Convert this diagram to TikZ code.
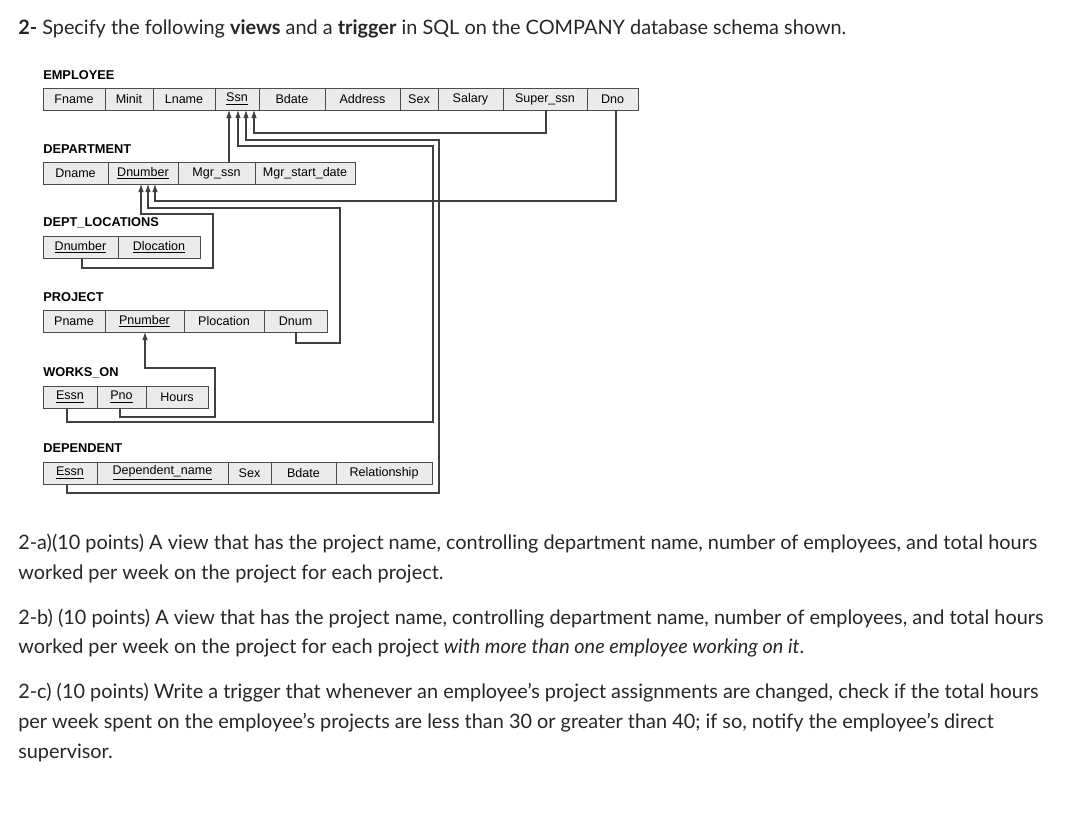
\documentclass[tikz,border=0pt]{standalone}
\usepackage{fontspec}
\setmainfont{Lato}
\newfontfamily\tabfont{Liberation Sans}
\usetikzlibrary{arrows.meta}
\begin{document}
\begin{tikzpicture}[x=0.75pt,y=-0.75pt,
  cell/.style={draw=black!70, fill=black!8, minimum height=16.5pt, inner sep=0pt, font=\tabfont\fontsize{9.4}{10}\selectfont, line width=0.6pt},
  tlabel/.style={anchor=west, inner sep=0pt, font=\tabfont\bfseries\fontsize{9.6}{10}\selectfont},
  conn/.style={draw=black!75, line width=0.8pt},
  arr/.style={conn, -{Latex[length=6pt,width=4.2pt]}},
  para/.style={anchor=base west, inner sep=0pt, font=\fontsize{14.9}{16}\selectfont, text=black!85}]
\useasboundingbox (0,0) rectangle (1078,815);
\newcommand\cell[5]{\node[cell,minimum width={(#3-#2)*0.75pt}] (#1) at ({(#2+#3)/2},#4) {#5};}
\node[para] (title) at (18,34) {\textbf{2-} Specify the following \textbf{views} and a \textbf{trigger} in SQL on the COMPANY database schema shown.};
% EMPLOYEE
\node[tlabel] (lemp) at (43,75) {EMPLOYEE};
\cell{fname}{43}{105}{99}{Fname}
\cell{minit}{105}{153}{99}{Minit}
\cell{lname}{153}{215}{99}{Lname}
\cell{ssn}{215}{259}{99}{\underline{Ssn}}
\cell{bdate}{259}{325}{99}{Bdate}
\cell{address}{325}{400}{99}{Address}
\cell{sex}{400}{438}{99}{Sex}
\cell{salary}{438}{503}{99}{Salary}
\cell{superssn}{503}{587}{99}{Super\_ssn}
\cell{dno}{587}{638}{99}{Dno}
% DEPARTMENT
\node[tlabel] (ldep) at (43,149) {DEPARTMENT};
\cell{dname}{43}{108}{173}{Dname}
\cell{dnumber}{108}{178}{173}{\underline{Dnumber}}
\cell{mgrssn}{178}{255}{173}{Mgr\_ssn}
\cell{mgrsd}{255}{355}{173}{Mgr\_start\_date}
% DEPT_LOCATIONS
\node[tlabel] (lloc) at (43,223) {DEPT\_LOCATIONS};
\cell{ldnumber}{43}{118}{247}{\underline{Dnumber}}
\cell{dlocation}{118}{200}{247}{\underline{Dlocation}}
% PROJECT
\node[tlabel] (lproj) at (43,297) {PROJECT};
\cell{pname}{43}{105}{321}{Pname}
\cell{pnumber}{105}{184}{321}{\underline{Pnumber}}
\cell{plocation}{184}{264}{321}{Plocation}
\cell{dnum}{264}{327}{321}{Dnum}
% WORKS_ON
\node[tlabel] (lwo) at (43,373) {WORKS\_ON};
\cell{wessn}{43}{97}{397}{\underline{Essn}}
\cell{pno}{97}{146}{397}{\underline{Pno}}
\cell{hours}{146}{208}{397}{Hours}
% DEPENDENT
\node[tlabel] (ldpd) at (43,448) {DEPENDENT};
\cell{dessn}{43}{97}{473}{\underline{Essn}}
\cell{dname2}{97}{228}{473}{\underline{Dependent\_name}}
\cell{dsex}{228}{271}{473}{Sex}
\cell{dbdate}{271}{336}{473}{Bdate}
\cell{relationship}{336}{432}{473}{Relationship}
% connectors to Ssn
\draw[arr] (229,162) -- (229,110);
\draw[arr] (546,110) -- (546,133) -- (254,133) -- (254,110);
\draw[arr] (67,484) -- (67,493) -- (439,493) -- (439,140) -- (246,140) -- (246,110);
\draw[arr] (67,408) -- (67,422) -- (433,422) -- (433,146) -- (238,146) -- (238,110);
% connectors to Dnumber
\draw[arr] (616,110) -- (616,201) -- (155,201) -- (155,184);
\draw[arr] (296,332) -- (296,343) -- (340,343) -- (340,208) -- (148,208) -- (148,184);
\draw[arr] (82,258) -- (82,268) -- (213,268) -- (213,214) -- (141,214) -- (141,184);
% connector to Pnumber
\draw[arr] (120,408) -- (120,417) -- (215,417) -- (215,368) -- (145,368) -- (145,332);
% paragraphs
\node[para] (pa1) at (18,549) {2-a)(10 points) A view that has the project name, controlling department name, number of employees, and total hours};
\node[para] (pa2) at (18,579) {worked per week on the project for each project.};
\node[para] (pb1) at (18,624) {2-b) (10 points) A view that has the project name, controlling department name, number of employees, and total hours};
\node[para] (pb2) at (18,653) {worked per week on the project for each project \textit{with more than one employee working on it}.};
\node[para] (pc1) at (18,698) {2-c) (10 points) Write a trigger that whenever an employee’s project assignments are changed, check if the total hours};
\node[para] (pc2) at (18,728) {per week spent on the employee’s projects are less than 30 or greater than 40; if so, notify the employee’s direct};
\node[para] (pc3) at (18,758) {supervisor.};
\end{tikzpicture}
\end{document}
